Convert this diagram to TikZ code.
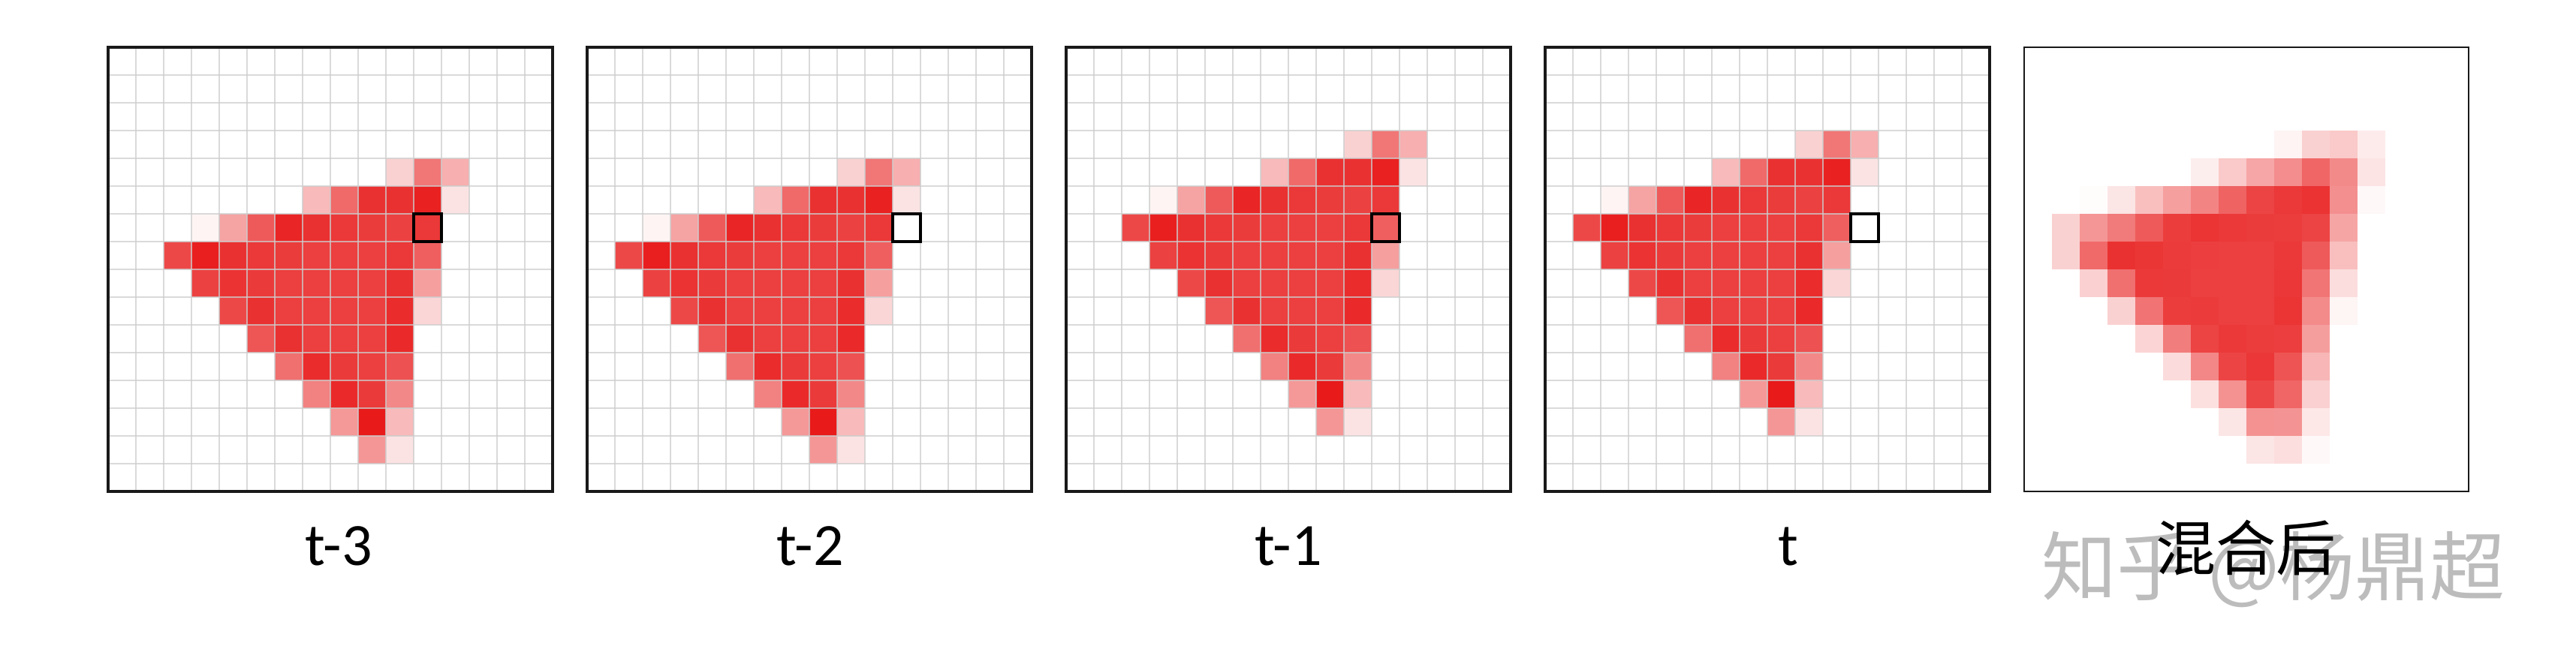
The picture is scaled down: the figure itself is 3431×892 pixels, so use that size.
\documentclass[tikz,border=0pt]{standalone}
\usepackage{fontspec}
\setmainfont{Carlito}
\newfontfamily\cjkfont{Noto Sans CJK SC}
\definecolor{cellred}{RGB}{232,26,26}
\definecolor{gridgray}{RGB}{205,205,205}
\definecolor{wmgray}{RGB}{188,188,188}
\def\pixset#1#2#3{\expandafter\xdef\csname pixv@#1@#2\endcsname{#3}}
\def\pixget#1#2{\ifcsname pixv@#1@#2\endcsname\csname pixv@#1@#2\endcsname\else 0\fi}
% frame t-3 pixel intensities (column/row/percent)
\def\pixdata{10/4/20, 11/4/60, 12/4/35,
 7/5/30, 8/5/65, 9/5/90, 10/5/90, 11/5/97, 12/5/12,
 3/6/5, 4/6/40, 5/6/72, 6/6/95, 7/6/90, 8/6/87, 9/6/85, 10/6/83, 11/6/87,
 2/7/80, 3/7/98, 4/7/90, 5/7/87, 6/7/85, 7/7/84, 8/7/84, 9/7/84, 10/7/87, 11/7/70,
 3/8/83, 4/8/89, 5/8/86, 6/8/84, 7/8/84, 8/8/84, 9/8/84, 10/8/90, 11/8/42,
 4/9/80, 5/9/90, 6/9/84, 7/9/84, 8/9/84, 9/9/84, 10/9/92, 11/9/18,
 5/10/74, 6/10/90, 7/10/84, 8/10/84, 9/10/84, 10/10/93,
 6/11/63, 7/11/92, 8/11/86, 9/11/84, 10/11/76,
 7/12/55, 8/12/93, 9/12/86, 10/12/52,
 8/13/45, 9/13/100, 10/13/30,
 9/14/46, 10/14/12}
\begin{document}
\begin{tikzpicture}[x=1pt,y=-1pt,
  gridline/.style={draw=gridgray, line width=1.6pt, draw opacity=0.75},
  frameline/.style={draw=black!90, line width=3.5pt},
  blendframe/.style={draw=black!90, line width=2.8pt},
  markbox/.style={draw=black, line width=4pt},
  lbl/.style={font=\fontsize{80}{96}\selectfont, anchor=base, inner sep=0pt},
  wm/.style={font=\fontsize{100}{120}\selectfont\cjkfont, text=wmgray, anchor=base, inner sep=0pt}]
\useasboundingbox (0,0) rectangle (3431,892);
\foreach \cc/\rr/\aa in \pixdata {\pixset{\cc}{\rr}{\aa}}
% four time frames
\foreach \px/\dc/\dr/\nm in {144/0/0/pa, 782/1/0/pb, 1420/0/1/pc, 2058/1/1/pd} {
  \foreach \cc/\rr/\aa in \pixdata {
    \fill[cellred!\aa] (\px+\cc*37-\dc*37, 63+\rr*37-\dr*37) rectangle ++(37,37);
  }
  \foreach \i in {1,...,15} {
    \draw[gridline] (\px+\i*37,63) -- (\px+\i*37,655);
    \draw[gridline] (\px,63+\i*37) -- (\px+592,63+\i*37);
  }
  \draw[frameline] (\px,63) rectangle (\px+592,655);
  \coordinate (\nm-box) at (\px+11*37,63+6*37);
  \draw[markbox] (\nm-box) rectangle ++(37,37);
}
% blended frame
\foreach \cc in {0,...,15} {
  \foreach \rr in {0,...,15} {
    \pgfmathtruncatemacro\cp{\cc+1}
    \pgfmathtruncatemacro\rp{\rr+1}
    \edef\va{\pixget{\cc}{\rr}}
    \edef\vb{\pixget{\cp}{\rr}}
    \edef\vc{\pixget{\cc}{\rp}}
    \edef\vd{\pixget{\cp}{\rp}}
    \pgfmathsetmacro\avg{(\va+\vb+\vc+\vd)/4}
    \ifdim\avg pt>0.5pt
      \fill[cellred!\avg] (2696+\cc*37, 63+\rr*37) rectangle ++(37,37);
    \fi
  }
}
\draw[blendframe] (2696,63) rectangle (3288,655);
% labels
\node[wm] (mark) at (3028,792) {知乎 @杨鼎超};
\node[lbl] (la) at (451,753) {t-3};
\node[lbl] (lb) at (1079,753) {t-2};
\node[lbl] (lc) at (1716,753) {t-1};
\node[lbl] (ld) at (2382,753) {t};
\node[lbl] (le) at (2991,760) {\cjkfont 混合后};
\end{tikzpicture}
\end{document}
